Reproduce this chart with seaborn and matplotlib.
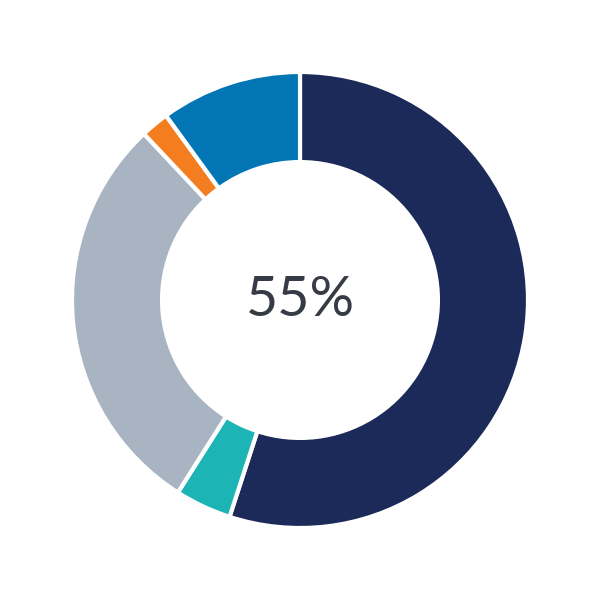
import matplotlib.pyplot as plt
import seaborn as sns

# Segments clockwise from 12 o'clock
labels = ["Navy", "Teal", "Gray", "Orange", "Blue"]
values = [55, 4, 29, 2, 10]
colors = ["#1b2a59", "#1db4b6", "#a9b4c3", "#f47d20", "#0276b4"]
center_text = "55%"

sns.set_theme(style="white")
plt.rcParams["font.family"] = ["Lato", "DejaVu Sans"]

fig = plt.figure(figsize=(6, 6), dpi=100)
ax = fig.add_axes([0, 0, 1, 1])

ax.pie(
    values,
    colors=colors,
    startangle=90,
    counterclock=False,
    radius=1,
    wedgeprops=dict(width=0.395, edgecolor="white", linewidth=3),
)
ax.text(0, 0, center_text, ha="center", va="center", fontsize=40,
        color="#363b45")

lim = 300 / 228
ax.set_xlim(-lim, lim)
ax.set_ylim(-lim, lim)
ax.set_aspect("equal")
ax.axis("off")

fig.savefig("out.png", dpi=100, facecolor="white")
